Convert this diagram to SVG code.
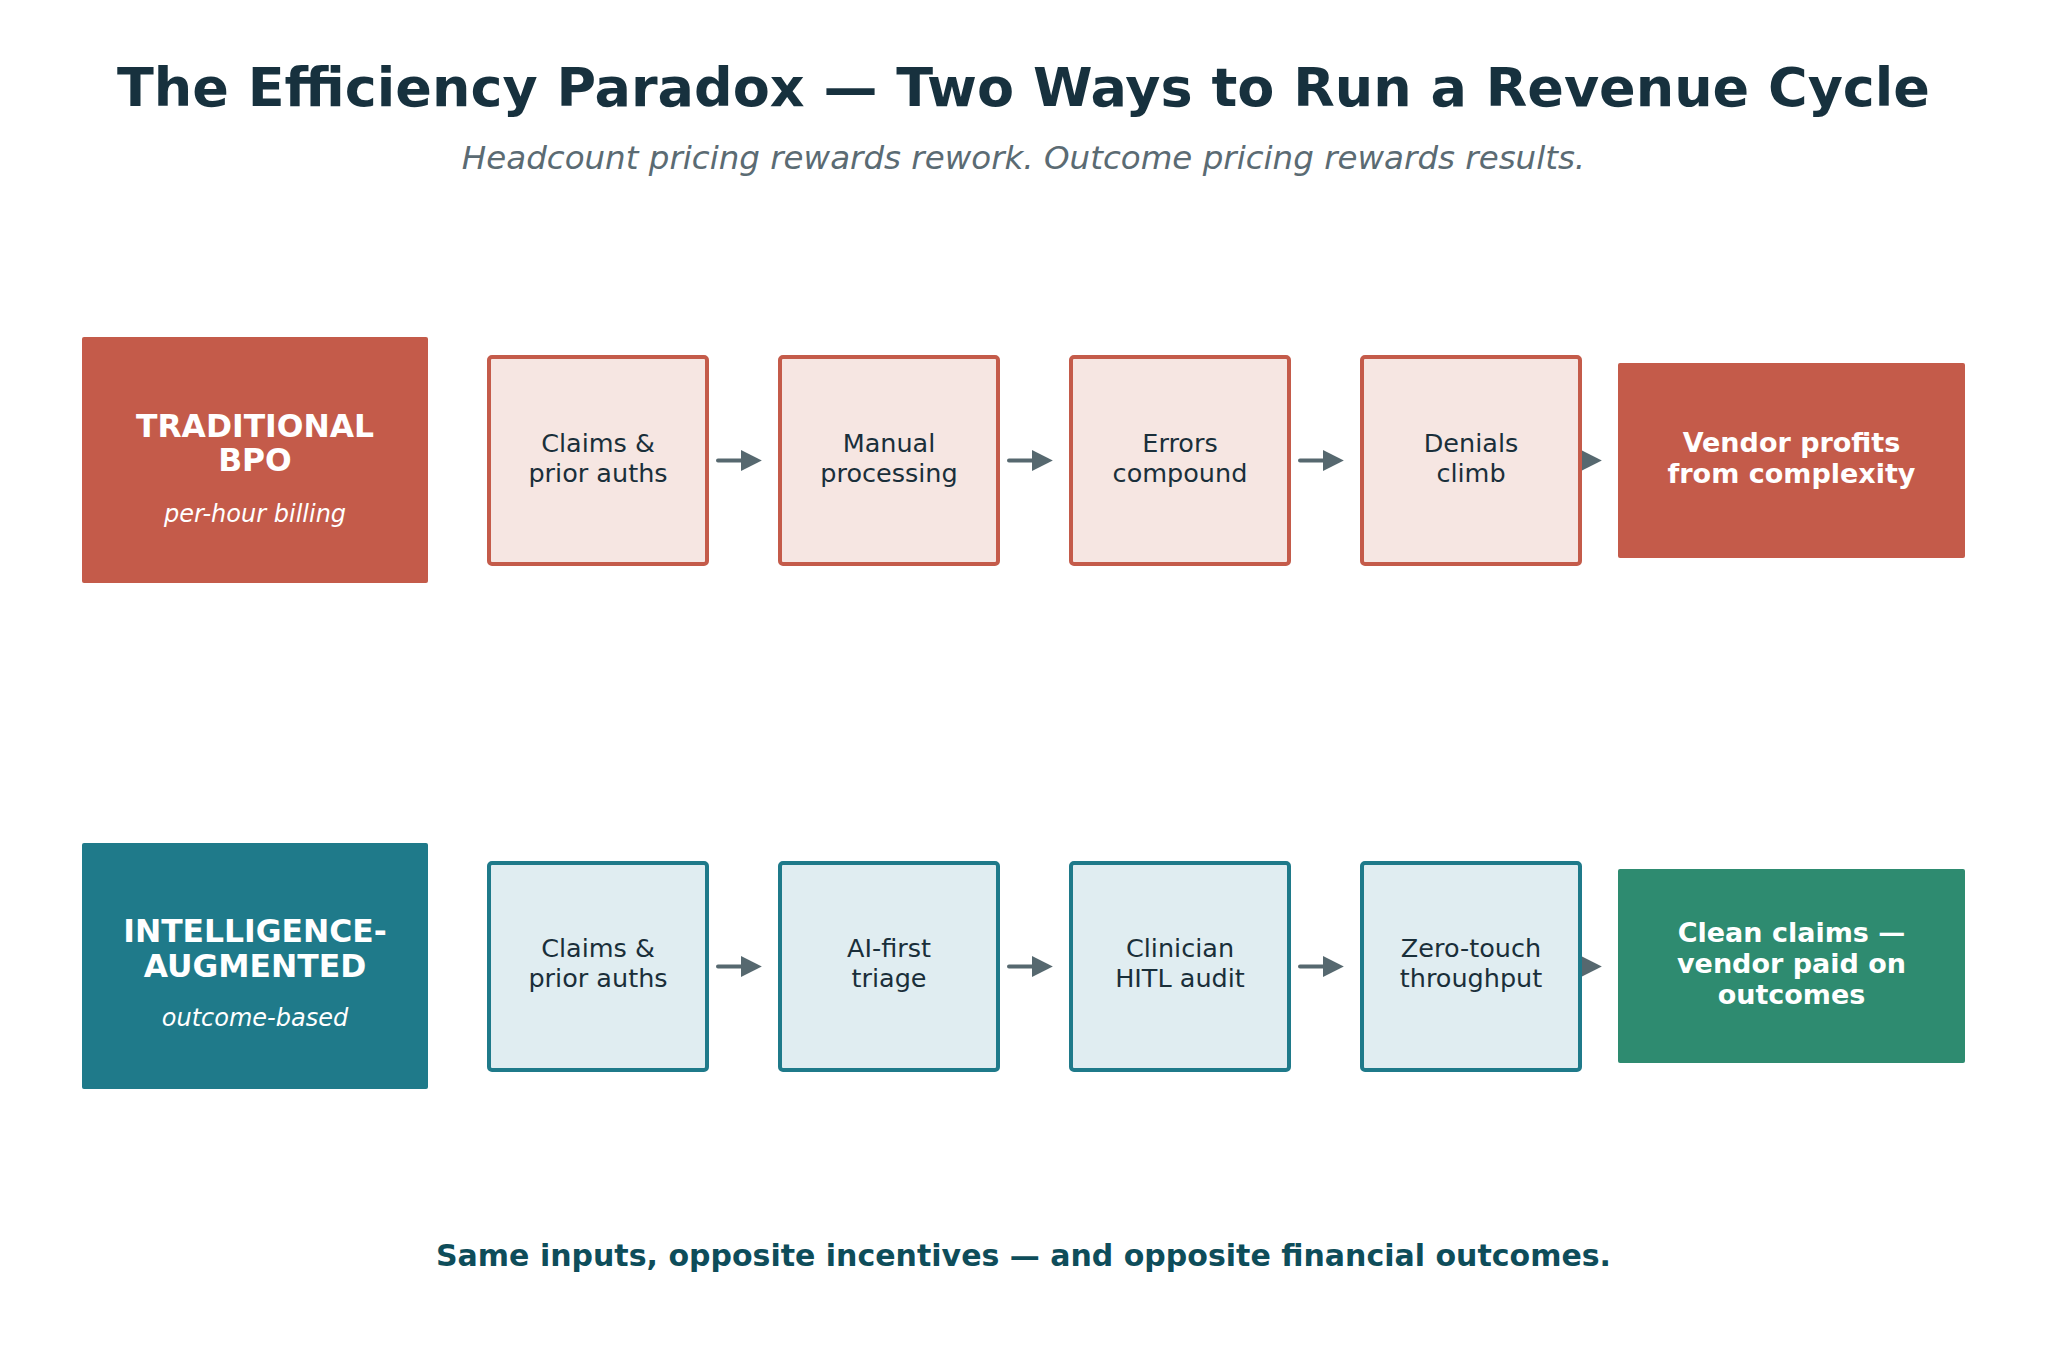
<svg xmlns="http://www.w3.org/2000/svg" width="2047" height="1362" viewBox="0 0 2047 1362">
<defs>
<marker id="ah" viewBox="0 0 10 10" refX="0" refY="5" markerWidth="5.2" markerHeight="5.2" orient="auto" markerUnits="strokeWidth">
<path d="M0,0 L10,5 L0,10 z" fill="#56686F"/>
</marker>
<style>
.t{font-family:"DejaVu Sans",sans-serif;text-anchor:middle}
.title{font-size:54px;font-weight:bold;fill:#17313E}
.sub{font-size:32.5px;font-style:italic;fill:#5B6B73}
.foot{font-size:30px;font-weight:bold;fill:#0E4D5A}
.lbl{font-size:31.4px;font-weight:bold;fill:#FFFFFF}
.lsub{font-size:24px;font-style:italic;fill:#FFFFFF}
.step{font-size:25.5px;fill:#1A2F3A}
.out{font-size:27px;font-weight:bold;fill:#FFFFFF}
.redbox{fill:#C45B4A}
.tealbox{fill:#1F7A8A}
.greenbox{fill:#2E8B70}
.rstep{fill:#F6E6E2;stroke:#C45B4A;stroke-width:4}
.tstep{fill:#E0EDF1;stroke:#1F7A8A;stroke-width:4}
.conn line{stroke:#56686F;stroke-width:4;stroke-linecap:round;marker-end:url(#ah)}
</style>
</defs>
<rect width="2047" height="1362" fill="#FFFFFF"/>
<text class="t title" x="1023.5" y="106">The Efficiency Paradox — Two Ways to Run a Revenue Cycle</text>
<text class="t sub" x="1023.5" y="169">Headcount pricing rewards rework. Outcome pricing rewards results.</text>

<g id="connectors" class="conn">
<line x1="718" y1="460.5" x2="741" y2="460.5"/>
<line x1="1009" y1="460.5" x2="1032" y2="460.5"/>
<line x1="1300" y1="460.5" x2="1323" y2="460.5"/>
<line x1="1558" y1="460.5" x2="1581" y2="460.5"/>
<line x1="718" y1="966.5" x2="741" y2="966.5"/>
<line x1="1009" y1="966.5" x2="1032" y2="966.5"/>
<line x1="1300" y1="966.5" x2="1323" y2="966.5"/>
<line x1="1558" y1="966.5" x2="1581" y2="966.5"/>
</g>

<g id="trad-label">
<rect class="redbox" x="82" y="337" width="346" height="246" rx="2"/>
<text class="t lbl" x="255" y="437">TRADITIONAL</text>
<text class="t lbl" x="255" y="471">BPO</text>
<text class="t lsub" x="255" y="522">per-hour billing</text>
</g>
<g id="trad-claims">
<rect class="rstep" x="489" y="357" width="218" height="207" rx="3"/>
<text class="t step" x="598" y="452">Claims &amp;</text>
<text class="t step" x="598" y="482">prior auths</text>
</g>
<g id="trad-manual">
<rect class="rstep" x="780" y="357" width="218" height="207" rx="3"/>
<text class="t step" x="889" y="452">Manual</text>
<text class="t step" x="889" y="482">processing</text>
</g>
<g id="trad-errors">
<rect class="rstep" x="1071" y="357" width="218" height="207" rx="3"/>
<text class="t step" x="1180" y="452">Errors</text>
<text class="t step" x="1180" y="482">compound</text>
</g>
<g id="trad-denials">
<rect class="rstep" x="1362" y="357" width="218" height="207" rx="3"/>
<text class="t step" x="1471" y="452">Denials</text>
<text class="t step" x="1471" y="482">climb</text>
</g>
<g id="trad-outcome">
<rect class="redbox" x="1618" y="363" width="347" height="195" rx="2"/>
<text class="t out" x="1791.5" y="452">Vendor profits</text>
<text class="t out" x="1791.5" y="483">from complexity</text>
</g>

<g id="ia-label">
<rect class="tealbox" x="82" y="843" width="346" height="246" rx="2"/>
<text class="t lbl" x="255" y="942">INTELLIGENCE-</text>
<text class="t lbl" x="255" y="977">AUGMENTED</text>
<text class="t lsub" x="255" y="1026">outcome-based</text>
</g>
<g id="ia-claims">
<rect class="tstep" x="489" y="863" width="218" height="207" rx="3"/>
<text class="t step" x="598" y="957">Claims &amp;</text>
<text class="t step" x="598" y="987">prior auths</text>
</g>
<g id="ia-triage">
<rect class="tstep" x="780" y="863" width="218" height="207" rx="3"/>
<text class="t step" x="889" y="957">AI-first</text>
<text class="t step" x="889" y="987">triage</text>
</g>
<g id="ia-audit">
<rect class="tstep" x="1071" y="863" width="218" height="207" rx="3"/>
<text class="t step" x="1180" y="957">Clinician</text>
<text class="t step" x="1180" y="987">HITL audit</text>
</g>
<g id="ia-zero">
<rect class="tstep" x="1362" y="863" width="218" height="207" rx="3"/>
<text class="t step" x="1471" y="957">Zero-touch</text>
<text class="t step" x="1471" y="987">throughput</text>
</g>
<g id="ia-outcome">
<rect class="greenbox" x="1618" y="869" width="347" height="194" rx="2"/>
<text class="t out" x="1791.5" y="942">Clean claims —</text>
<text class="t out" x="1791.5" y="973">vendor paid on</text>
<text class="t out" x="1791.5" y="1004">outcomes</text>
</g>

<text class="t foot" x="1023.5" y="1266">Same inputs, opposite incentives — and opposite financial outcomes.</text>
</svg>
